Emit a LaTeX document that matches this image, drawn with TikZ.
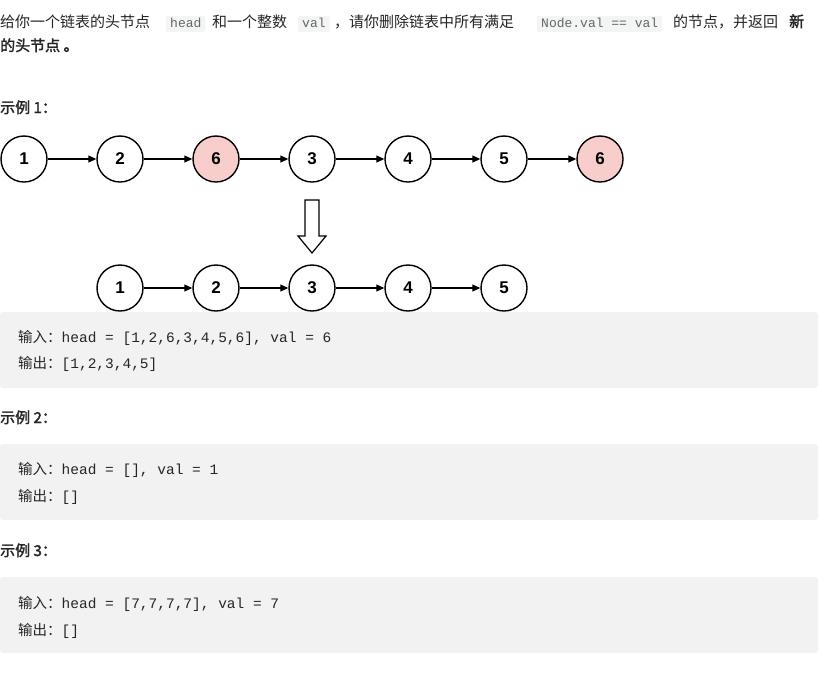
\documentclass[tikz,border=0pt]{standalone}
\usepackage{fontspec}
\setmainfont{Liberation Sans}
\newfontfamily\cjk{Noto Sans CJK SC}
\newfontfamily\cjkb{Noto Sans CJK SC}[FakeBold=2]
\newfontfamily\mono{Liberation Mono}
\usetikzlibrary{arrows.meta}
\definecolor{codebg}{HTML}{F2F2F2}
\definecolor{inl}{HTML}{F3F4F4}
\definecolor{pink}{HTML}{F8CECC}
\begin{document}
\begin{tikzpicture}[x=1pt,y=-1pt,
  ln/.style={circle,draw=black,line width=1.4pt,minimum size=46pt,inner sep=0pt,font=\fontsize{17}{17}\selectfont\bfseries,fill=white},
  red/.style={fill=pink},
  lk/.style={-{Triangle[length=8pt,width=7pt]},line width=1.2pt},
  txt/.style={anchor=base west,inner sep=0pt,font=\cjk\fontsize{15}{15}\selectfont,text=black!85},
  btxt/.style={txt,font=\cjkb\fontsize{15}{15}\selectfont},
  icode/.style={anchor=base west,fill=inl,rounded corners=2pt,inner xsep=4pt,inner ysep=0pt,text depth=5pt,text height=11pt,font=\mono\fontsize{13}{13}\selectfont,text=black!60},
  code/.style={anchor=base west,inner sep=0pt,font=\mono\fontsize{14.5}{14.5}\selectfont,text=black!85},
  blk/.style={fill=codebg,rounded corners=3pt,draw=none}]
\useasboundingbox (0,0) rectangle (830,673);
\fill[white] (0,0) rectangle (830,673);
% intro
\node[txt] (t1) at (0,27) {给你一个链表的头节点};
\node[icode] (t2) at (166,27) {head};
\node[txt] (t3) at (212,27) {和一个整数};
\node[icode] (t4) at (298,27) {val};
\node[txt] (t5) at (334,27) {，请你删除链表中所有满足};
\node[icode] (t6) at (537,27) {Node.val == val};
\node[txt] (t7) at (673,27) {的节点，并返回};
\node[btxt] (t8) at (789,27) {新};
\node[btxt] (t9) at (0,51) {的头节点 。};
\node[btxt] (e1) at (0,113) {示例 1：};
% list top
\foreach \v/\n/\s [count=\i] in {1/a1/,2/a2/,6/a3/red,3/a4/,4/a5/,5/a6/,6/a7/red}
  \node[ln,\s] (\n) at ({24+96*(\i-1)},159) {\v};
\foreach \p/\q in {a1/a2,a2/a3,a3/a4,a4/a5,a5/a6,a6/a7} \draw[lk] (\p) -- (\q);
% hollow arrow
\draw[line width=1.2pt,fill=white] (305,200) -- (319,200) -- (319,236) -- (326,236) -- (312,253) -- (298,236) -- (305,236) -- cycle;
% list bottom
\foreach \v [count=\i] in {1,2,3,4,5}
  \node[ln] (b\i) at ({120+96*(\i-1)},288) {\v};
\foreach \p/\q in {b1/b2,b2/b3,b3/b4,b4/b5} \draw[lk] (\p) -- (\q);
% code 1
\fill[codebg,rounded corners=3pt] (0,312) rectangle (818,388);
\node[code] (c1) at (18,342) {{\cjk 输入：}head = [1,2,6,3,4,5,6], val = 6};
\node[code] (c2) at (18,368) {{\cjk 输出：}[1,2,3,4,5]};
\node[btxt] (e2) at (0,423) {示例 2：};
\fill[codebg,rounded corners=3pt] (0,444) rectangle (818,520);
\node[code] (c3) at (18,474) {{\cjk 输入：}head = [], val = 1};
\node[code] (c4) at (18,501) {{\cjk 输出：}[]};
\node[btxt] (e3) at (0,556) {示例 3：};
\fill[codebg,rounded corners=3pt] (0,577) rectangle (818,653);
\node[code] (c5) at (18,608) {{\cjk 输入：}head = [7,7,7,7], val = 7};
\node[code] (c6) at (18,635) {{\cjk 输出：}[]};
\end{tikzpicture}
\end{document}
